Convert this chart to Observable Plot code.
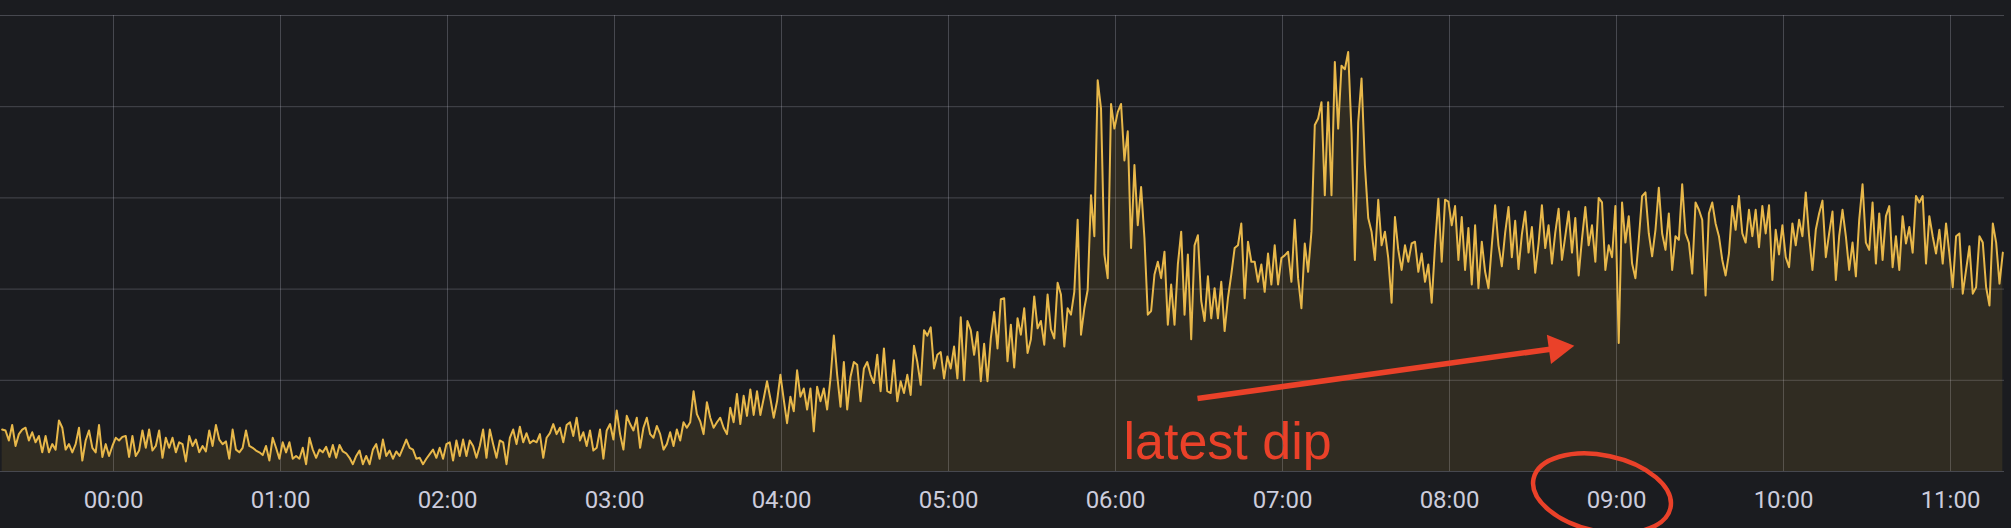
<!DOCTYPE html>
<html>
<head>
<meta charset="utf-8">
<script src="https://cdn.jsdelivr.net/npm/d3@7"></script>
<script src="https://cdn.jsdelivr.net/npm/@observablehq/plot@0.6"></script>
<style>
  html, body { margin: 0; padding: 0; background: #1b1c20; overflow: hidden; }
  #chart svg { display: block; }
</style>
</head>
<body>
<div id="chart"></div>
<script>
// ---- series: one reading every 72 s, starting 23:20 ----
const startTime = "2024-01-01T23:20:00Z";
const stepSeconds = 72;

const seg0 = [46,45,34,51,28,41,46,48,34,43,32,39,21,39,21,30,24,56,48,24,30,21,30,48,12,34,45,26,21,51,16,30,17,28,37,34,38,39,16,39,17,23,45,26,46,23,28,45,15,37,26,37,21,32,30,11,39,28,35,21,28,22,45,28,51,35,30,33,14,46,24,21,26,45,28];
const seg1 = [26,23,21,18,28,12,37,26,14,32,21,32,14,17,14,26,8,37,24,15,24,21,27,16,29,15,29,22,20,15,8,17,23,8,17,8,24,30,14,35,17,23,14,22,17,26,35,26,24,14,15,8,14,19,24,15,26,14,30,32,12,34,17,35,17,34,28,15,28,46,15,46,30,15,34];
const seg2 = [32,8,37,46,30,49,32,42,31,34,32,41,15,37,42,52,41,48,32,51,54,39,59,34,43,28,45,23,26,46,14,45,52,35,67,41,24,61,52,45,59,26,48,59,41,37,50,41,24,30,43,28,46,34,54,48,54,88,63,55,41,76,59,48,54,59,48,41,70,54,85,52,83,61,90];
const seg3 = [62,88,62,80,99,80,59,77,106,79,53,82,66,111,82,91,68,91,44,93,77,91,68,102,149,106,71,120,68,104,120,117,77,113,120,106,97,128,88,135,88,86,122,77,99,86,106,84,138,120,95,155,149,158,113,128,131,102,126,113,137,102,169,100,165,155,128,153,99,140,99,146,175,135,189];
const seg4 = [190,121,161,114,168,150,179,130,145,192,157,165,139,194,156,146,207,194,137,179,172,197,276,150,179,199,303,258,429,398,238,212,403,376,394,403,341,373,245,336,270,312,256,172,176,216,230,212,241,161,205,161,227,263,172,238,145,248,259,187,165,214,168,201,168,208,154,190,216,245,248,272,190,252,230];
const seg5 = [230,208,227,197,239,205,248,205,234,237,241,208,276,212,179,250,219,263,380,387,405,303,405,303,449,376,445,441,460,372,232,383,431,336,278,263,232,298,248,263,234,185,279,243,221,248,230,250,252,219,239,208,227,185,248,299,230,298,296,270,291,232,279,221,267,205,270,201,252,219,201,248,292,248,225];
const seg6 = [262,290,235,275,222,260,285,240,268,218,250,292,245,270,228,262,288,232,258,285,240,278,215,255,290,248,270,230,300,295,221,248,235,291,141,295,251,280,228,212,254,302,306,261,236,265,311,261,243,283,221,258,254,315,261,251,217,295,287,276,193,283,295,272,258,232,215,239,291,265,302,261,251,287,258];
const seg7 = [287,246,291,261,292,210,265,238,270,235,224,272,248,276,258,306,258,221,265,283,297,235,261,285,210,258,287,258,221,251,214,276,315,251,243,295,228,283,232,280,291,224,258,221,280,250,268,240,302,295,302,228,280,258,239,265,228,272,239,202,258,261,195,221,247,195,202,258,251,202,182,272,251,206,240];

// ---- axes ----
const tickDay = "2024-01-02";
const tickLabels = ["00:00","01:00","02:00","03:00","04:00","05:00","06:00","07:00","08:00","09:00","10:00","11:00"];
const yTicks = [0, 100, 200, 300, 400, 500];
const xStart = "2024-01-01T23:19:24Z";
const xEnd = "2024-01-02T11:19:24Z";

// ---- annotations (data coordinates) ----
const noteLabel = [{time: "2024-01-02T06:02:53Z", value: 14, text: "latest dip"}];
const arrowShaft = [{t1: "2024-01-02T06:29:28Z", v1: 80, t2: "2024-01-02T08:38:46Z", v2: 135.2}];
const arrowHead = [{time: "2024-01-02T08:38:46Z", value: 135.2}];
const dipRing = {time: "2024-01-02T08:54:58Z", value: -24.5};

const RED = "#ea4129";

const values = [].concat(seg0, seg1, seg2, seg3, seg4, seg5, seg6, seg7);
const t0 = new Date(startTime).getTime();
const data = values.map((v, i) => ({time: new Date(t0 + i * stepSeconds * 1000), value: v}));
const ticks = tickLabels.map(s => new Date(`${tickDay}T${s}:00Z`));
const D = s => new Date(s);

const W = 2011, H = 528, mT = 15, mB = 57, mL = 0, mR = 7;

const chart = Plot.plot({
  width: W, height: H,
  marginTop: mT, marginBottom: mB, marginLeft: mL, marginRight: mR,
  style: {background: "#1b1c20", fontFamily: "Roboto", color: "#ccccdc", overflow: "visible"},
  x: {type: "utc", domain: [D(xStart), D(xEnd)]},
  y: {domain: [0, 500], axis: null},
  marks: [
    Plot.gridX({ticks, stroke: "#ccccdc", strokeOpacity: 0.25, strokeWidth: 1}),
    Plot.gridY({ticks: yTicks, stroke: "#ccccdc", strokeOpacity: 0.25, strokeWidth: 1}),
    Plot.areaY(data, {x: "time", y: "value", fill: "#eab839", fillOpacity: 0.1}),
    Plot.lineY(data, {x: "time", y: "value", stroke: "#e8b84a", strokeWidth: 2}),
    Plot.axisX({ticks, tickFormat: "%H:%M", tickSize: 0, tickPadding: 19, fontSize: 24, color: "#ccccdc"}),
    Plot.text(noteLabel, {x: d => D(d.time), y: "value", text: "text", textAnchor: "start", lineAnchor: "bottom",
      fontSize: 52, fontFamily: "Liberation Sans", fill: RED}),
    Plot.link(arrowShaft, {x1: d => D(d.t1), y1: "v1", x2: d => D(d.t2), y2: "v2", stroke: RED, strokeWidth: 5.5, strokeLinecap: "butt"}),
    Plot.dot(arrowHead, {x: d => D(d.time), y: "value", symbol: "triangle", r: 11, fill: RED, stroke: "none", rotate: 82})
  ]
});

document.getElementById("chart").appendChild(chart);

// ellipse ring around the 09:00 label, positioned through the chart's scales
let fx, fy;
try {
  fx = chart.scale("x").apply; fy = chart.scale("y").apply;
} catch (e) {}
if (!fx || !fy) {
  fx = d3.scaleUtc().domain([D(xStart), D(xEnd)]).range([mL, W - mR]);
  fy = d3.scaleLinear().domain([0, 500]).range([H - mB, mT]);
}
const cx = fx(D(dipRing.time)), cy = fy(dipRing.value);
d3.select(chart).append("ellipse")
  .attr("cx", cx).attr("cy", cy).attr("rx", 70).attr("ry", 38)
  .attr("transform", `rotate(12 ${cx} ${cy})`)
  .attr("fill", "none").attr("stroke", RED).attr("stroke-width", 4.5);
</script>
</body>
</html>
